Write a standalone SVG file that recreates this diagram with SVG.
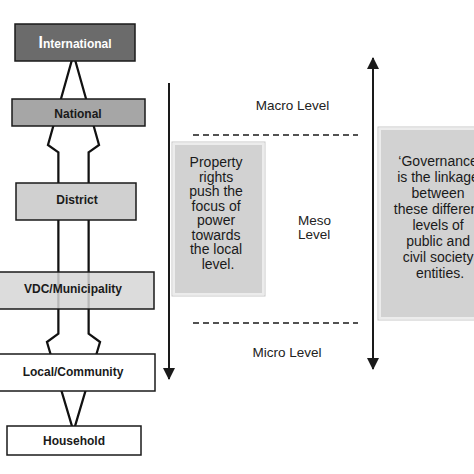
<svg xmlns="http://www.w3.org/2000/svg" width="474" height="474" viewBox="0 0 474 474">
<defs>
<style>
.lvl{stroke:#1a1a1a;stroke-width:1.5}
.lt{font-family:"Liberation Sans",Arial,sans-serif;font-weight:bold;font-size:12px;fill:#1a1a1a;text-anchor:middle}
.note{font-family:"Liberation Sans",Arial,sans-serif;font-size:14px;fill:#1a1a1a;text-anchor:middle}
.scale{font-family:"Liberation Sans",Arial,sans-serif;font-size:13.5px;fill:#222}
.dash{stroke:#1a1a1a;stroke-width:1.5;stroke-dasharray:6 4;fill:none}
.ax{stroke:#1a1a1a;stroke-width:2;fill:none}
</style>
<marker id="ah" viewBox="0 0 12 12" refX="11" refY="6" markerWidth="12" markerHeight="12" markerUnits="userSpaceOnUse" orient="auto-start-reverse">
<path d="M0,0 L12,6 L0,12 Z" fill="#1a1a1a"/>
</marker>
<path id="udp" d="M73.5,64 L96,144 L86,151 L86,335 L97,343 L73.5,422 L50,343 L61,335 L61,151 L51,144 Z"/>
</defs>

<g id="connectors">
<g id="updown-arrow">
<use href="#udp" fill="#fff" stroke="#111" stroke-width="7.5" stroke-linejoin="miter" stroke-miterlimit="10"/>
<use href="#udp" fill="#fff" stroke="#fff" stroke-width="3" stroke-linejoin="miter" stroke-miterlimit="10"/>
</g>
<line class="ax" x1="169" y1="83" x2="169" y2="379" marker-end="url(#ah)"/>
<line class="ax" x1="373" y1="58" x2="373" y2="369" marker-start="url(#ah)" marker-end="url(#ah)"/>
<line class="dash" x1="193" y1="135" x2="358" y2="135"/>
<line class="dash" x1="193" y1="323" x2="358" y2="323"/>
</g>

<g id="international">
<rect class="lvl" x="15" y="24" width="120" height="37" fill="#6b6b6b"/>
<text class="lt" x="75" y="48" style="fill:#fff"><tspan font-size="16">I</tspan>nternational</text>
</g>
<g id="national">
<rect class="lvl" x="12" y="99" width="133" height="27" fill="#a6a6a6"/>
<text class="lt" x="78" y="118">National</text>
</g>
<g id="district">
<rect class="lvl" x="16" y="183" width="120" height="37" fill="#d0d0d0"/>
<text class="lt" x="77" y="204">District</text>
</g>
<g id="vdc">
<rect class="lvl" x="-1" y="272" width="155" height="37" fill="#d6d6d6" fill-opacity="0.85"/>
<text class="lt" x="73" y="293">VDC/Municipality</text>
</g>
<g id="local">
<rect class="lvl" x="-1" y="354" width="156" height="37" fill="#fff"/>
<text class="lt" x="73" y="376">Local/Community</text>
</g>
<g id="household">
<rect class="lvl" x="7" y="426" width="134" height="29" fill="#fff"/>
<text class="lt" x="74" y="445">Household</text>
</g>

<g id="macro">
<text class="scale" x="292.5" y="110" text-anchor="middle">Macro Level</text>
</g>
<g id="meso">
<text class="scale" x="298" y="225">Meso</text>
<text class="scale" x="298" y="239">Level</text>
</g>
<g id="micro">
<text class="scale" x="287" y="357" text-anchor="middle">Micro Level</text>
</g>

<g id="property-box">
<rect x="172" y="142" width="93" height="154" fill="none" stroke="#c8c8c8" stroke-width="1"/>
<rect x="174" y="144" width="89" height="150" fill="#d2d2d2" stroke="#ececec" stroke-width="2"/>
<text class="note" x="218">
<tspan x="218" y="167">Property</tspan>
<tspan x="218" y="181.5">rights</tspan>
<tspan x="218" y="196">push the</tspan>
<tspan x="218" y="210.5">focus of</tspan>
<tspan x="218" y="225">power</tspan>
<tspan x="218" y="239.5">towards</tspan>
<tspan x="218" y="254">the local</tspan>
<tspan x="218" y="268.5">level.</tspan>
</text>
</g>

<g id="governance-box">
<rect x="378" y="127" width="120" height="193" fill="none" stroke="#c8c8c8" stroke-width="1"/>
<rect x="380" y="129" width="116" height="189" fill="#d2d2d2" stroke="#ececec" stroke-width="2"/>
<text class="note" x="440">
<tspan x="440" y="166">‘Governance</tspan>
<tspan x="440" y="182">is the linkage</tspan>
<tspan x="440" y="198">between</tspan>
<tspan x="440" y="214">these different</tspan>
<tspan x="440" y="230">levels of</tspan>
<tspan x="440" y="246">public and</tspan>
<tspan x="440" y="262">civil society</tspan>
<tspan x="440" y="278">entities.</tspan>
</text>
</g>
</svg>
